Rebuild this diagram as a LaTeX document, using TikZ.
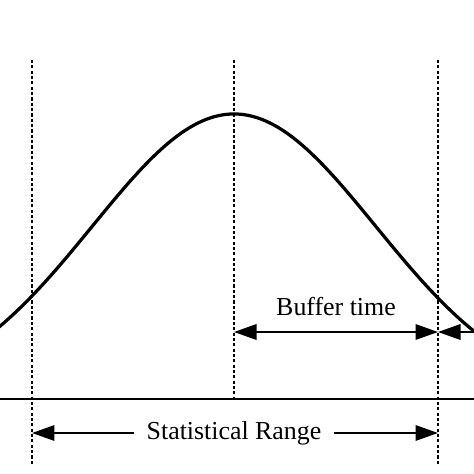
\documentclass[tikz,border=0pt]{standalone}
\usepackage{fontspec}
\setmainfont{Liberation Serif}
\usetikzlibrary{arrows.meta,positioning}
\tikzset{
  guide/.style={line width=1.5pt, dash pattern=on 2.2pt off 1.6pt},
  axisln/.style={line width=1.3pt},
  bell/.style={line width=2.3pt},
  span/.style={line width=1.4pt, {Triangle[length=16pt,width=11pt]}-{Triangle[length=16pt,width=11pt]}},
  spanl/.style={line width=1.4pt, -{Triangle[length=16pt,width=11pt]}},
  lbl/.style={font=\fontsize{18.4}{22}\selectfont, inner sep=0pt},
}

\begin{document}
\begin{tikzpicture}[x=0.025cm,y=-0.025cm]
\clip (0,0) rectangle (474,474);
% vertical guides
\coordinate (lt) at (32,60);  \coordinate (lb) at (32,465);
\coordinate (mt) at (234,60); \coordinate (mb) at (234,399);
\coordinate (rt) at (438,60); \coordinate (rb) at (438,465);
\draw[guide] (lt) -- (lb);
\draw[guide] (mt) -- (mb);
\draw[guide] (rt) -- (rb);
% axis
\coordinate (a0) at (-5,399); \coordinate (a1) at (480,399);
\draw[axisln] (a0) -- (a1);
% bell curve
\draw[bell] plot[domain=-10:485, samples=120, smooth] (\x,{399-285*exp(-0.5*((\x-234)/141.6)^2)});
% buffer time
\coordinate (bl) at (234,332); \coordinate (br) at (438,332); \coordinate (bo) at (495,332);
\draw[span] (bl) -- node[lbl, above=11pt] (buf) {Buffer time} (br);
\draw[spanl] (bo) -- (br);
% statistical range
\node[lbl, inner xsep=9pt] (sr) at (234,433) {Statistical Range};
\coordinate (sl) at (32,433); \coordinate (sx) at (438,433);
\draw[spanl] (sr.west) -- (sl);
\draw[spanl] (sr.east) -- (sx);
\end{tikzpicture}
\end{document}
